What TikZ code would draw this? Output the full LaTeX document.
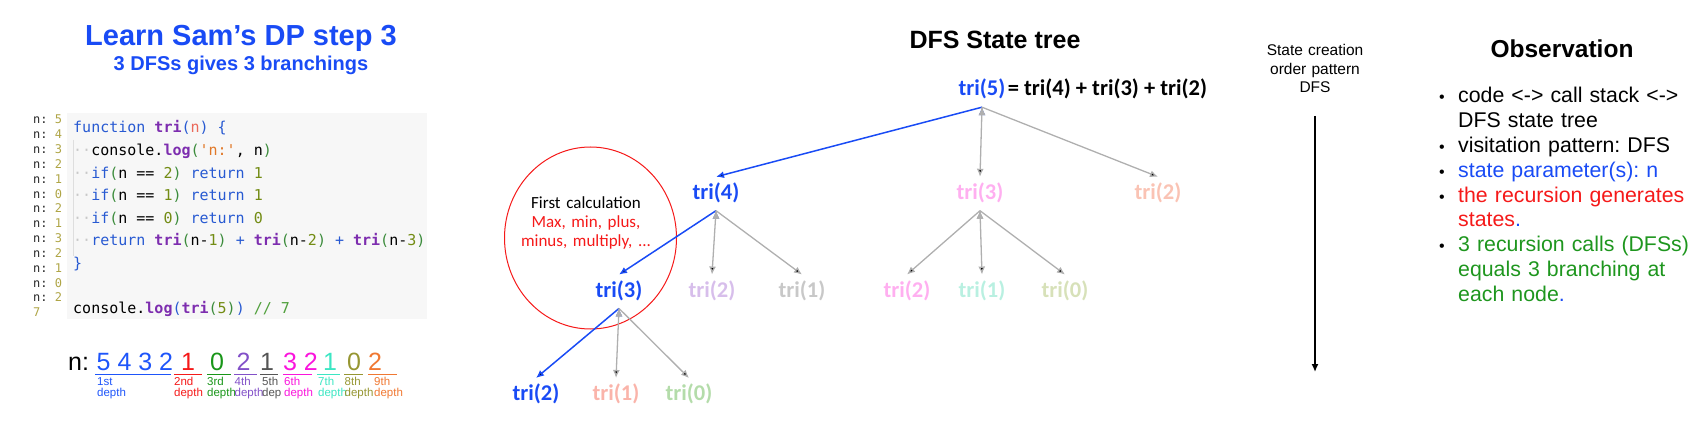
\documentclass[tikz,border=0pt]{standalone}
\usepackage{fontspec}
\setmainfont{Liberation Sans}
\setmonofont{DejaVu Sans Mono}
\newfontfamily\condfont{Carlito}
\usetikzlibrary{shapes,arrows.meta,positioning}
\frenchspacing

\definecolor{dpblue}{RGB}{25,75,245}
\definecolor{calcred}{RGB}{245,25,25}
\definecolor{obsgreen}{RGB}{30,150,30}
\definecolor{edgegray}{RGB}{175,175,175}
\definecolor{codebg}{RGB}{247,247,247}
\definecolor{guidegray}{RGB}{222,222,222}
\definecolor{lngray}{RGB}{40,40,40}
\definecolor{lnolive}{RGB}{175,165,70}
\definecolor{kwblue}{RGB}{40,90,210}
\definecolor{fnpurple}{RGB}{125,45,175}
\definecolor{argred}{RGB}{235,105,90}
\definecolor{strorange}{RGB}{225,120,40}
\definecolor{numolive}{RGB}{115,140,20}
\definecolor{pargreen}{RGB}{60,140,60}
\definecolor{cmtgreen}{RGB}{80,160,60}
\definecolor{dotgray}{RGB}{200,200,200}
% depth colours
\definecolor{c1}{RGB}{30,85,250}
\definecolor{c2}{RGB}{245,25,25}
\definecolor{c3}{RGB}{25,150,25}
\definecolor{c4}{RGB}{130,80,200}
\definecolor{c5}{RGB}{85,85,85}
\definecolor{c6}{RGB}{250,20,220}
\definecolor{c7}{RGB}{60,230,195}
\definecolor{c8}{RGB}{150,150,50}
\definecolor{c9}{RGB}{240,120,50}
% faded tree colours
\definecolor{fpink}{RGB}{255,175,240}
\definecolor{fsalmon}{RGB}{250,195,180}
\definecolor{flav}{RGB}{215,190,235}
\definecolor{fgray}{RGB}{200,200,200}
\definecolor{fcyan}{RGB}{185,240,225}
\definecolor{folive}{RGB}{215,225,185}
\definecolor{fred}{RGB}{250,180,170}
\definecolor{fgreen}{RGB}{180,220,170}

\newcommand\codekw[1]{\textcolor{kwblue}{#1}}
\newcommand\codefn[1]{\textcolor{fnpurple}{\bfseries #1}}
\newcommand\codenum[1]{\textcolor{numolive}{#1}}
\newcommand\codepar[1]{\textcolor{pargreen}{#1}}
\newcommand\codedots{\textcolor{dotgray}{··}}
\newcommand\lnum[1]{n: \textcolor{lnolive}{#1}}
\newcommand\monospacing{\spaceskip=0.602em\relax}

\begin{document}
\begin{tikzpicture}[x=1pt, y=-1pt, >={Latex[length=8pt,width=7pt]},
  trinode/.style={font=\condfont\bfseries\fontsize{22.5}{26}\selectfont, inner xsep=4pt, inner ysep=6pt, text height=16.5pt, text depth=5pt},
  blueedge/.style={->, draw=dpblue, line width=1.5pt},
  grayedge/.style={->, draw=edgegray, line width=1.3pt},
  digit/.style={anchor=base, inner sep=0pt, font=\fontsize{25}{30}\selectfont},
  depthlbl/.style={anchor=base west, inner sep=0pt, text width=32pt, align=left, font=\fontsize{11.5}{11.7}\selectfont},
  uline/.style={line width=1.5pt},
  bul/.style={anchor=base, inner sep=0pt, font=\fontsize{16}{20}\selectfont},
  obstxt/.style={anchor=base west, inner sep=0pt, text width=240pt, align=left, font=\fontsize{21.3}{24.9}\selectfont}]

  \useasboundingbox (0,0) rectangle (1700,430);

  % title
  \node[anchor=base, text=dpblue, font=\bfseries\fontsize{29}{35}\selectfont] (title) at (241,46) {Learn Sam’s DP step 3};
  \node[anchor=base, text=dpblue, font=\bfseries\fontsize{20}{24}\selectfont] (subtitle) at (241,71) {3 DFSs gives 3 branchings};

  % code and its log
  \fill[codebg] (67,113) rectangle (427,319);
  \draw[guidegray, line width=0.8pt] (73.5,140) -- (73.5,256);
  \node[anchor=base west, inner sep=0pt, text width=40pt, align=left, text=lngray,
        font=\ttfamily\fontsize{12}{14.83}\selectfont] (log) at (33,124)
    {\monospacing\lnum{5}\\\lnum{4}\\\lnum{3}\\\lnum{2}\\\lnum{1}\\\lnum{0}\\\lnum{2}\\\lnum{1}\\\lnum{3}\\\lnum{2}\\\lnum{1}\\\lnum{0}\\\lnum{2}\\\textcolor{lnolive}{7}};
  \node[anchor=base west, inner sep=0pt, text width=400pt, align=left,
        font=\ttfamily\fontsize{15}{22.6}\selectfont] (code) at (73,133)
    {\monospacing\codekw{function} \codefn{tri}\codekw{(}\textcolor{argred}{n}\codekw{)} \codekw{\{}\\
     \codedots console.\codefn{log}\codepar{(}\textcolor{strorange}{'n:'}, n\codepar{)}\\
     \codedots\codekw{if}\codepar{(}n == \codenum{2}\codepar{)} \codekw{return} \codenum{1}\\
     \codedots\codekw{if}\codepar{(}n == \codenum{1}\codepar{)} \codekw{return} \codenum{1}\\
     \codedots\codekw{if}\codepar{(}n == \codenum{0}\codepar{)} \codekw{return} \codenum{0}\\
     \codedots\codekw{return} \codefn{tri}\codepar{(}n-\codenum{1}\codepar{)} \codekw{+} \codefn{tri}\codepar{(}n-\codenum{2}\codepar{)} \codekw{+} \codefn{tri}\codepar{(}n-\codenum{3}\codepar{)}\\
     \codekw{\}}\\[22.6pt]
     console.\codefn{log}\codekw{(}\codefn{tri}\codepar{(}\codenum{5}\codepar{)}\codekw{)} \textcolor{cmtgreen}{// 7}};

  % n order with depths
  \node[digit, anchor=base west] (nlbl) at (68,370) {n:};
  \node[digit, anchor=base west, text=c1] (d1) at (96.5,370) {5 4 3 2};
  \node[digit, text=c2] (d2) at (188,370) {1};
  \node[digit, text=c3] (d3) at (217,370) {0};
  \node[digit, text=c4] (d4) at (243.5,370) {2};
  \node[digit, text=c5] (d5) at (267,370) {1};
  \node[digit, text=c6] (d6) at (300.5,370) {3 2};
  \node[digit, text=c7] (d7) at (330,370) {1};
  \node[digit, text=c8] (d8) at (354,370) {0};
  \node[digit, text=c9] (d9) at (375,370) {2};

  \draw[uline, c1] (95,374.5) -- (171,374.5);
  \draw[uline, c2] (174,374.5) -- (202,374.5);
  \draw[uline, c3] (207,374.5) -- (231,374.5);
  \draw[uline, c4] (234,374.5) -- (257,374.5);
  \draw[uline, c5] (260,374.5) -- (278,374.5);
  \draw[uline, c6] (283,374.5) -- (312,374.5);
  \draw[uline, c7] (317,374.5) -- (340,374.5);
  \draw[uline, c8] (344,374.5) -- (363,374.5);
  \draw[uline, c9] (368,374.5) -- (397,374.5);

  \node[depthlbl, text=c1] (l1) at (97,385) {1st\\depth};
  \node[depthlbl, text=c2] (l2) at (174,385) {2nd\\depth};
  \node[depthlbl, text=c3] (l3) at (207,385) {3rd\\depth};
  \node[depthlbl, text=c4] (l4) at (234.5,385) {4th\\depth};
  \node[depthlbl, text=c5] (l5) at (262,385) {5th\\dep};
  \node[depthlbl, text=c6] (l6) at (284,385) {6th\\depth};
  \node[depthlbl, text=c7] (l7) at (318,385) {7th\\depth};
  \node[depthlbl, text=c8] (l8) at (344.5,385) {8th\\depth};
  \node[depthlbl, text=c9] (l9) at (374,385) {9th\\depth};

  % DFS state tree
  \node[anchor=base, font=\bfseries\fontsize{25}{30}\selectfont] (treetitle) at (995,49) {DFS State tree};
  \node[trinode, text=dpblue] (t5) at (982,90.25) {tri(5)};
  \node[trinode, right=-6pt of t5] (eq) {= tri(4) + tri(3) + tri(2)};

  \node[trinode, text=dpblue] (t4) at (716,193.75) {tri(4)};
  \node[trinode, text=fpink] (t3b) at (980,193.75) {tri(3)};
  \node[trinode, text=fsalmon] (t2c) at (1158,193.75) {tri(2)};

  \node[trinode, text=dpblue] (t3) at (619,291.5) {tri(3)};
  \node[trinode, text=flav] (t2b) at (712,291.5) {tri(2)};
  \node[trinode, text=fgray] (t1b) at (802,291.5) {tri(1)};
  \node[trinode, text=fpink] (t2p) at (907,291.5) {tri(2)};
  \node[trinode, text=fcyan] (t1c) at (982,291.5) {tri(1)};
  \node[trinode, text=folive] (t0o) at (1065,291.5) {tri(0)};

  \node[trinode, text=dpblue] (t2) at (536,395) {tri(2)};
  \node[trinode, text=fred] (t1s) at (616,395) {tri(1)};
  \node[trinode, text=fgreen] (t0g) at (689,395) {tri(0)};

  \node[draw=calcred, line width=1pt, ellipse, minimum width=172pt, minimum height=182pt] (calc) at (590.5,238) {};
  \node[anchor=base, text width=150pt, align=center, inner sep=0pt, font=\condfont\fontsize{17}{19}\selectfont] (calctxt) at (586,209)
    {First calculation\\\textcolor{calcred}{Max, min, plus,}\\\textcolor{calcred}{minus, multiply, ...}};

  \path[blueedge] (t5.south) edge (t4.north);
  \path[grayedge] (t5.south) edge (t3b.north);
  \path[grayedge] (t5.south) edge (t2c.north);
  \path[blueedge] (t4.south) edge (t3.north);
  \path[grayedge] (t4.south) edge (t2b.north);
  \path[grayedge] (t4.south) edge (t1b.north);
  \path[grayedge] (t3b.south) edge (t2p.north);
  \path[grayedge] (t3b.south) edge (t1c.north);
  \path[grayedge] (t3b.south) edge (t0o.north);
  \path[blueedge] (t3.south) edge (t2.north);
  \path[grayedge] (t3.south) edge (t1s.north);
  \path[grayedge] (t3.south) edge (t0g.north);

  % creation order
  \node[anchor=base, text width=130pt, align=center, inner sep=0pt, font=\fontsize{15.5}{18.5}\selectfont] (order) at (1315,56) {State creation\\order pattern\\DFS};
  \coordinate (ordtop) at (1315,116);
  \coordinate (ordbot) at (1315,372);
  \draw[->, line width=1.5pt] (ordtop) -- (ordbot);

  % observation
  \node[anchor=base, font=\bfseries\fontsize{24.5}{29}\selectfont] (obs) at (1562,58) {Observation};
  \node[bul] (b1) at (1442,102.5) {\textbullet};
  \node[obstxt] (o1) at (1458,102.5) {code <-> call stack <->\\DFS state tree};
  \node[bul] (b2) at (1442,152.3) {\textbullet};
  \node[obstxt] (o2) at (1458,152.3) {visitation pattern: DFS};
  \node[bul] (b3) at (1442,177.2) {\textbullet};
  \node[obstxt, text=dpblue] (o3) at (1458,177.2) {state parameter(s): n};
  \node[bul] (b4) at (1442,202.1) {\textbullet};
  \node[obstxt, text=calcred] (o4) at (1458,202.1) {the recursion generates\\states\textcolor{dpblue}{.}};
  \node[bul] (b5) at (1442,251.9) {\textbullet};
  \node[obstxt, text=obsgreen] (o5) at (1458,251.9) {3 recursion calls (DFSs)\\equals 3 branching at\\each node\textcolor{dpblue}{.}};
\end{tikzpicture}
\end{document}
